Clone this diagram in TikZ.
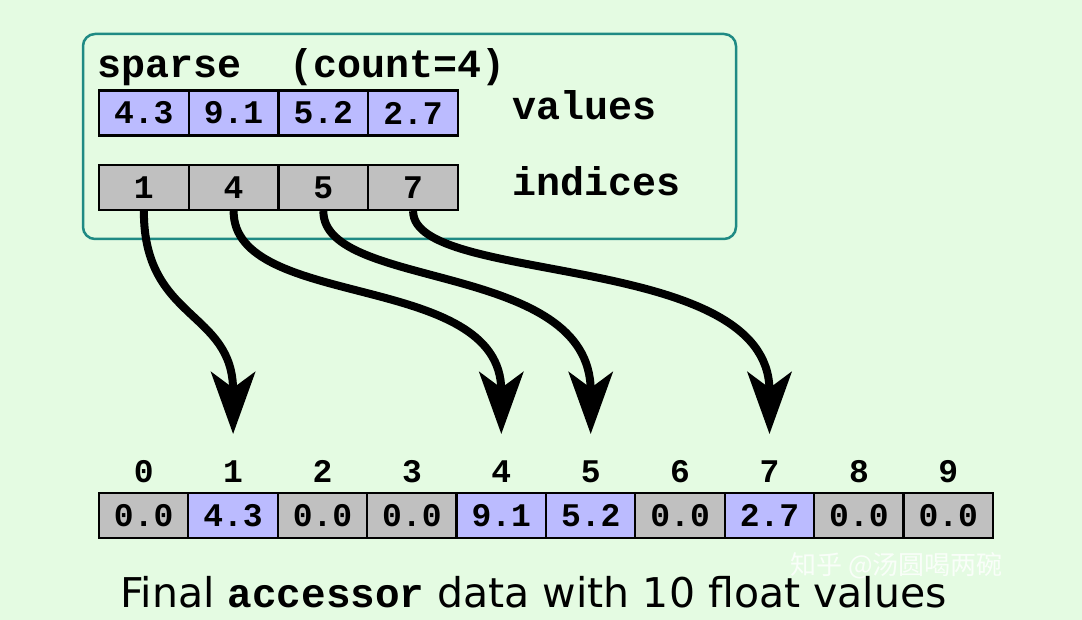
\documentclass[tikz,border=0pt]{standalone}
\usepackage{fontspec}
\setmainfont{DejaVu Sans}
\newfontfamily\monob{Liberation Mono}[BoldFont={Liberation Mono Bold}]
\newfontfamily\cjk{Noto Sans CJK SC}
\usetikzlibrary{arrows.meta}
\definecolor{bg}{HTML}{E4FBE2}
\definecolor{vblue}{HTML}{BBBBFF}
\definecolor{cgrey}{HTML}{C0C0C0}
\definecolor{teal}{HTML}{1F8A84}
\begin{document}
\begin{tikzpicture}[x=1pt,y=-1pt,
  cell/.style={draw=black,line width=2.2pt,minimum width=89.6pt,minimum height=45pt,inner sep=0pt,font=\fontsize{33}{33}\monob\bfseries},
  vcell/.style={cell,fill=vblue},
  gcell/.style={cell,fill=cgrey},
  lab/.style={anchor=base west,inner sep=0pt,font=\fontsize{40}{40}\monob\bfseries},
  num/.style={inner sep=0pt,anchor=base,font=\fontsize{33}{33}\monob\bfseries},
  arr/.style={line width=8pt,-{Stealth[width=44pt,length=62pt,inset=16pt]},shorten >=26pt}]
\fill[bg] (0,0) rectangle (1082,620);
\useasboundingbox (0,0) rectangle (1082,620);
\draw[teal,line width=2.5pt,rounded corners=12pt] (83,34) rectangle (736,239);
\node[lab] (title) at (97,78) {sparse\ \ (count=4)};
\node[lab] (vl) at (512,120) {values};
\node[lab] (il) at (512,196) {indices};
\foreach \v [count=\i] in {4.3,9.1,5.2,2.7}
  \node[vcell] (v\i) at (99+89.75*\i-44.9,113) {\v};
\foreach \v [count=\i] in {1,4,5,7}
  \node[gcell] (i\i) at (99+89.75*\i-44.9,187.5) {\v};
\foreach \v [count=\i from 0] in {0.0,4.3,0.0,0.0,9.1,5.2,0.0,2.7,0.0,0.0}{
  \ifnum\i=1 \def\st{vcell}\else\ifnum\i=4 \def\st{vcell}\else\ifnum\i=5 \def\st{vcell}\else\ifnum\i=7 \def\st{vcell}\else\def\st{gcell}\fi\fi\fi\fi
  \node[\st] (b\i) at (99+89.4*\i+44.7,515.5) {\v};
  \node[num] (n\i) at (99+89.4*\i+44.7,482) {\i};
}
\draw[arr] (i1.south) .. controls ++(0,110) and ([yshift=150]n1.north) .. (n1.north);
\draw[arr] (i2.south) .. controls ++(0,100) and ([yshift=190]n4.north) .. (n4.north);
\draw[arr] (i3.south) .. controls ++(0,80) and ([yshift=200]n5.north) .. (n5.north);
\draw[arr] (i4.south) .. controls ++(0,75) and ([yshift=210]n7.north) .. (n7.north);
\node[anchor=base west,inner sep=0pt,font=\fontsize{41}{41}\selectfont] (cap) at (120,607) {Final {\monob\bfseries accessor} data with 10 float values};
\node[anchor=base west,inner sep=0pt,text=white,opacity=0.8,font=\fontsize{26}{26}\cjk] (wm) at (790,574) {知乎 @汤圆喝两碗};
\end{tikzpicture}
\end{document}
